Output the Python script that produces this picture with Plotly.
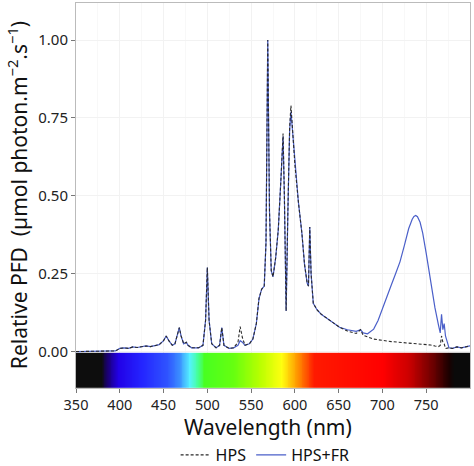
import plotly.graph_objects as go
import numpy as np

# Wavelength grid (nm) and relative PFD values
wavelength = [350, 380, 395, 400, 405, 410, 415, 420, 425, 430, 435, 440, 445, 450, 453, 456,
              460, 463, 466, 468, 470, 473, 476, 478, 482, 490, 495, 498, 500, 502, 505, 510,
              514, 516.5, 519, 525, 530, 535, 537.5, 540, 543, 548, 552, 556, 559, 562, 565,
              567, 569, 571, 573, 575, 578, 581, 584, 586.5, 588, 590, 592, 594, 595.5, 597,
              600, 604, 608, 611, 614, 615.5, 617, 618.5, 621, 625, 630, 640, 651, 660, 670,
              675, 678, 683, 690, 695, 700, 705, 710, 715, 720, 725, 730, 734, 736, 738, 740, 743,
              746, 750, 755, 760, 764, 766, 767.5, 769, 770.5, 772, 776, 780, 785, 790, 795, 800]

hps = [0, 0, 0.002, 0.01, 0.012, 0.01, 0.015, 0.013, 0.015, 0.018, 0.016, 0.02, 0.022, 0.035, 0.05, 0.035,
       0.02, 0.025, 0.06, 0.077, 0.05, 0.025, 0.03, 0.02, 0.012, 0.012, 0.02, 0.1, 0.27, 0.1, 0.025, 0.012,
       0.02, 0.077, 0.02, 0.01, 0.012, 0.03, 0.08, 0.045, 0.02, 0.025, 0.04, 0.09, 0.17, 0.2, 0.21,
       0.35, 1.0, 0.45, 0.26, 0.24, 0.3, 0.39, 0.55, 0.70, 0.5, 0.13, 0.45, 0.72, 0.79, 0.73,
       0.60, 0.48, 0.38, 0.28, 0.22, 0.21, 0.40, 0.25, 0.155, 0.135, 0.12, 0.10, 0.078, 0.066, 0.058,
       0.07, 0.052, 0.047, 0.04, 0.038, 0.035, 0.034, 0.032, 0.031, 0.03, 0.029, 0.028, 0.027, 0.027,
       0.026, 0.026, 0.025, 0.025, 0.023, 0.021, 0.018, 0.016, 0.02, 0.05, 0.03, 0.025, 0.01, 0.012,
       0.01, 0.015, 0.012, 0.015, 0.018]

hps_fr = [0, 0, 0.002, 0.01, 0.012, 0.01, 0.015, 0.013, 0.015, 0.018, 0.016, 0.02, 0.022, 0.035, 0.05, 0.035,
          0.02, 0.025, 0.06, 0.077, 0.05, 0.025, 0.03, 0.02, 0.012, 0.012, 0.02, 0.1, 0.27, 0.1, 0.025, 0.012,
          0.02, 0.077, 0.02, 0.01, 0.012, 0.02, 0.035, 0.03, 0.02, 0.025, 0.04, 0.09, 0.17, 0.2, 0.21,
          0.35, 1.0, 0.45, 0.26, 0.24, 0.3, 0.39, 0.55, 0.69, 0.5, 0.13, 0.45, 0.71, 0.77, 0.72,
          0.60, 0.48, 0.38, 0.28, 0.22, 0.21, 0.40, 0.25, 0.155, 0.135, 0.12, 0.10, 0.078, 0.07, 0.065,
          0.07, 0.06, 0.057, 0.072, 0.1, 0.14, 0.178, 0.213, 0.25, 0.288, 0.34, 0.395, 0.425, 0.434,
          0.437, 0.433, 0.415, 0.38, 0.315, 0.22, 0.14, 0.085, 0.06, 0.12, 0.07, 0.09, 0.05, 0.012,
          0.01, 0.015, 0.012, 0.015, 0.018]

x_ticks = [350, 400, 450, 500, 550, 600, 650, 700, 750]
y_ticks = [0, 0.25, 0.5, 0.75, 1.0]
y_tick_labels = ["0.00", "0.25", "0.50", "0.75", "1.00"]

# colour stops of the visible-spectrum bar (wavelength, colour)
spec_wl = [350, 379, 386, 398, 425, 455, 468, 480, 489, 497, 530, 560, 585, 602, 622, 700, 730, 758, 776, 782, 800]
spec_col = ["#0d0d0d", "#0d0d0d", "#1a0070", "#2200e6", "#2424ff", "#2f55ff", "#3a8cff", "#55f2ff",
            "#45ff9a", "#48ff20", "#66ff10", "#b8ff00", "#ffff10", "#ff9a00", "#ff1a00", "#ff0000",
            "#cc0000", "#6a0000", "#1a0000", "#0a0a0a", "#0a0a0a"]

lo, hi = spec_wl[0], spec_wl[-1]
colorscale = [[(w - lo) / (hi - lo), c] for w, c in zip(spec_wl, spec_col)]
bar_x = np.linspace(lo, hi, 451)
bar_bottom, bar_top = -0.117, -0.004
half = (bar_top - bar_bottom) / 4
bar_y = [bar_bottom + half, bar_top - half]

fig = go.Figure()
fig.add_trace(go.Heatmap(
    x=bar_x, y=bar_y, z=[bar_x, bar_x], zmin=lo, zmax=hi,
    colorscale=colorscale, showscale=False, hoverinfo="skip", showlegend=False))

fig.add_trace(go.Scatter(x=wavelength, y=hps_fr, mode="lines", name="HPS+FR",
                         line=dict(color="#4a5fc9", width=1.2)))
fig.add_trace(go.Scatter(x=wavelength, y=hps, mode="lines", name="HPS",
                         line=dict(color="#2a2a2a", width=1.1, dash="3px,2px")))

font = "Noto Sans"
fig.update_layout(
    width=474, height=466,
    margin=dict(l=76, r=4, t=3, b=78),
    paper_bgcolor="white", plot_bgcolor="white",
    font=dict(family=font, color="#333333"),
    showlegend=True,
    legend=dict(orientation="h", xref="paper", yref="container", x=0.48, y=0.0236,
                xanchor="center", yanchor="middle", font=dict(size=16, color="#111111"),
                traceorder="reversed", itemwidth=30),
    xaxis=dict(range=[350, 800], tickvals=x_ticks, ticks="outside", ticklen=4, tickcolor="#777",
               tickfont=dict(size=14.5, color="#222"), showgrid=True, gridcolor="#f2f2f2", gridwidth=1,
               minor=dict(showgrid=True, gridcolor="#f8f8f8", dtick=25, tick0=350),
               showline=True, linecolor="#bbbbbb", mirror=True, zeroline=False),
    yaxis=dict(range=[-0.117, 1.119], tickvals=y_ticks, ticktext=y_tick_labels, ticks="outside",
               ticklen=4, tickcolor="#777", tickfont=dict(size=15, color="#222"),
               showgrid=True, gridcolor="#f2f2f2", gridwidth=1,
               showline=True, linecolor="#bbbbbb", mirror=True, zeroline=False),
    annotations=[
        dict(text="Wavelength (nm)", xref="paper", yref="paper", x=0.487, y=-0.101,
             xanchor="center", yanchor="middle", showarrow=False,
             font=dict(size=21, color="#111")),
        dict(text="Relative PFD&nbsp;&nbsp;(µmol photon.m<sup>−2</sup>.s<sup>−1</sup>)",
             xref="paper", yref="paper", x=-0.1497, y=0.501, textangle=-90,
             xanchor="center", yanchor="middle", showarrow=False,
             font=dict(size=21, color="#111")),
    ],
)

fig.write_html("out.html")
